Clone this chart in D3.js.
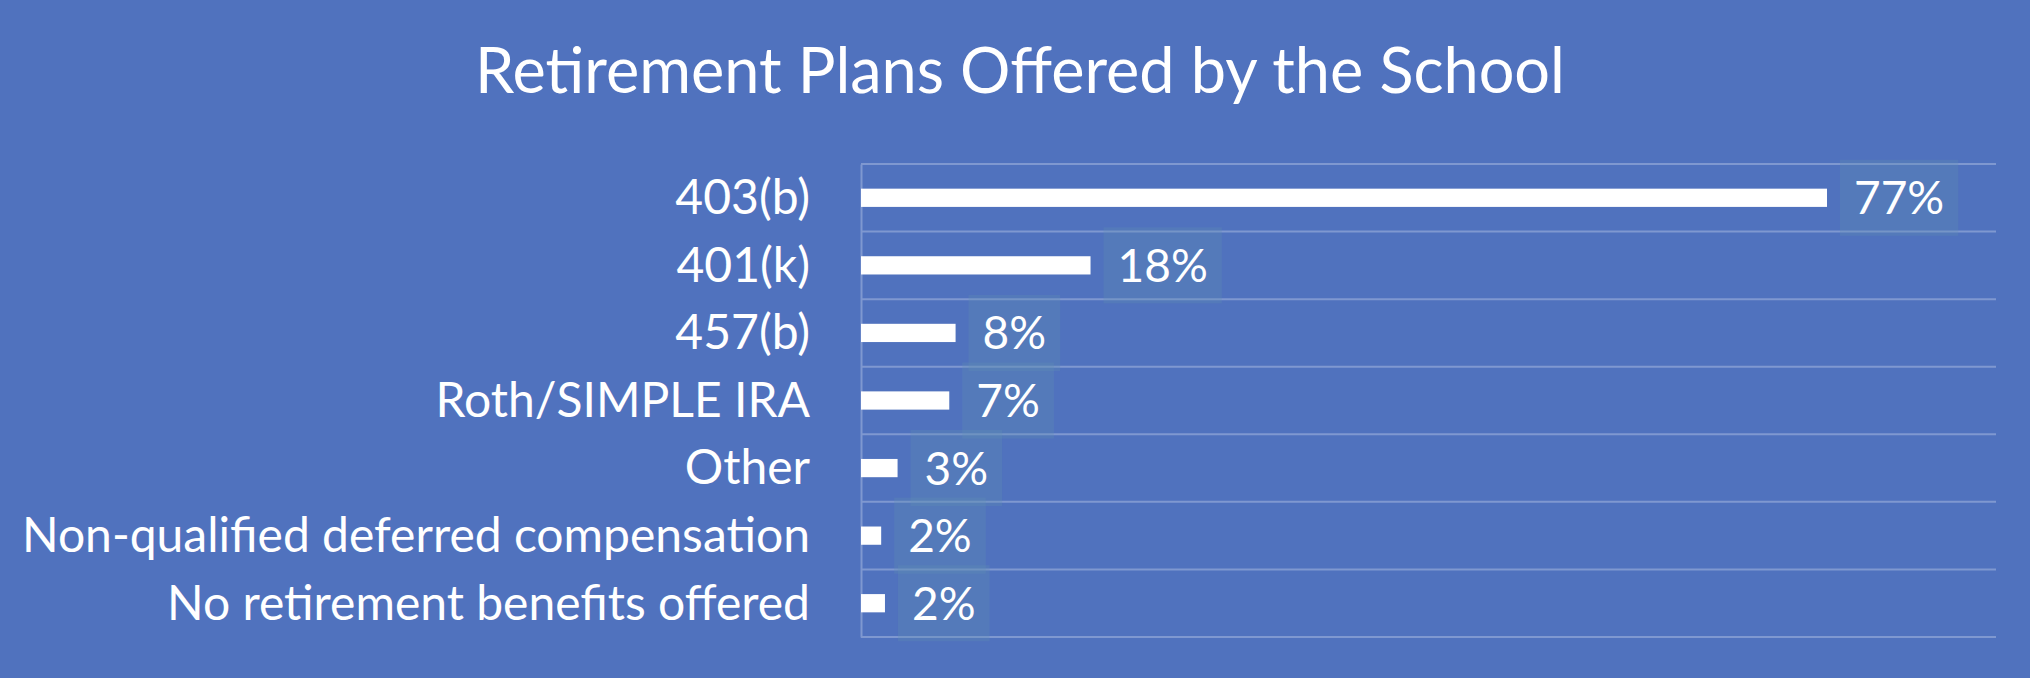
<!DOCTYPE html>
<html>
<head>
<meta charset="utf-8">
<script src="https://cdn.jsdelivr.net/npm/d3@7"></script>
<style>
  body { margin: 0; background: #5072be; }
  svg text { font-family: Lato, "Open Sans", sans-serif; fill: #fff; }
</style>
</head>
<body>
<div id="chart"></div>
<script>
let width = 2030;
let height = 678;

// values, in percent
let categories = ["403(b)", "401(k)", "457(b)", "Roth/SIMPLE IRA", "Other",
  "Non-qualified deferred compensation", "No retirement benefits offered"];
let values = [76.6, 18.2, 7.5, 7.0, 2.9, 1.6, 1.9];
let title = "Retirement Plans Offered by the School";

let data = categories.map((c, i) => ({ cat: c, val: values[i] }));

let svg = d3.select("#chart").append("svg").attr("width", width).attr("height", height);
svg.append("rect").attr("width", width).attr("height", height).attr("fill", "#5072be");

let xScale = d3.scaleLinear().domain([0, 90]).range([861, 1996]);
let yScale = d3.scaleBand().domain(categories).range([164, 637]);
let barH = yScale.bandwidth() * 0.27;

svg.append("text")
  .attr("x", 1020).attr("y", 93)
  .attr("text-anchor", "middle")
  .style("font-size", "63px")
  .text(title);

// horizontal gridlines at band edges
let gridYs = categories.map(c => yScale(c)).concat([yScale.range()[1]]);
svg.append("g").selectAll("line").data(gridYs).enter().append("line")
  .attr("x1", xScale(0)).attr("x2", xScale.range()[1])
  .attr("y1", d => d).attr("y2", d => d)
  .attr("stroke", "#7f98d0").attr("stroke-width", 2);

// category axis
let yAxis = svg.append("g")
  .attr("transform", "translate(" + xScale(0) + ",0)")
  .call(d3.axisLeft(yScale).tickSize(0).tickSizeOuter(0).tickPadding(51));
yAxis.select(".domain").attr("stroke", "#7f98d0").attr("stroke-width", 2);
yAxis.selectAll("text")
  .style("font-size", "48px")
  .attr("fill", "#fff")
  .attr("dy", "0.34em");

// bars
svg.append("g").selectAll("rect").data(data).enter().append("rect")
  .attr("x", xScale(0))
  .attr("y", d => yScale(d.cat) + (yScale.bandwidth() - barH) / 2)
  .attr("width", d => xScale(d.val) - xScale(0))
  .attr("height", barH)
  .attr("fill", "#fff");

// value labels with boxes
let labels = svg.append("g").selectAll("g").data(data).enter().append("g")
  .attr("transform", d => "translate(" + (xScale(d.val) + 13) + "," + (yScale(d.cat) + yScale.bandwidth() / 2) + ")");

labels.each(function (d) {
  let g = d3.select(this);
  let box = g.append("rect");
  let t = g.append("text")
    .attr("x", 14).attr("dy", "0.36em")
    .style("font-size", "46px")
    .text(Math.round(d.val) + "%");
  let w = t.node().getComputedTextLength();
  box.attr("x", 0).attr("y", -38).attr("width", w + 28).attr("height", 76)
    .attr("fill", "rgba(97,144,180,0.3)");
});
</script>
</body>
</html>
